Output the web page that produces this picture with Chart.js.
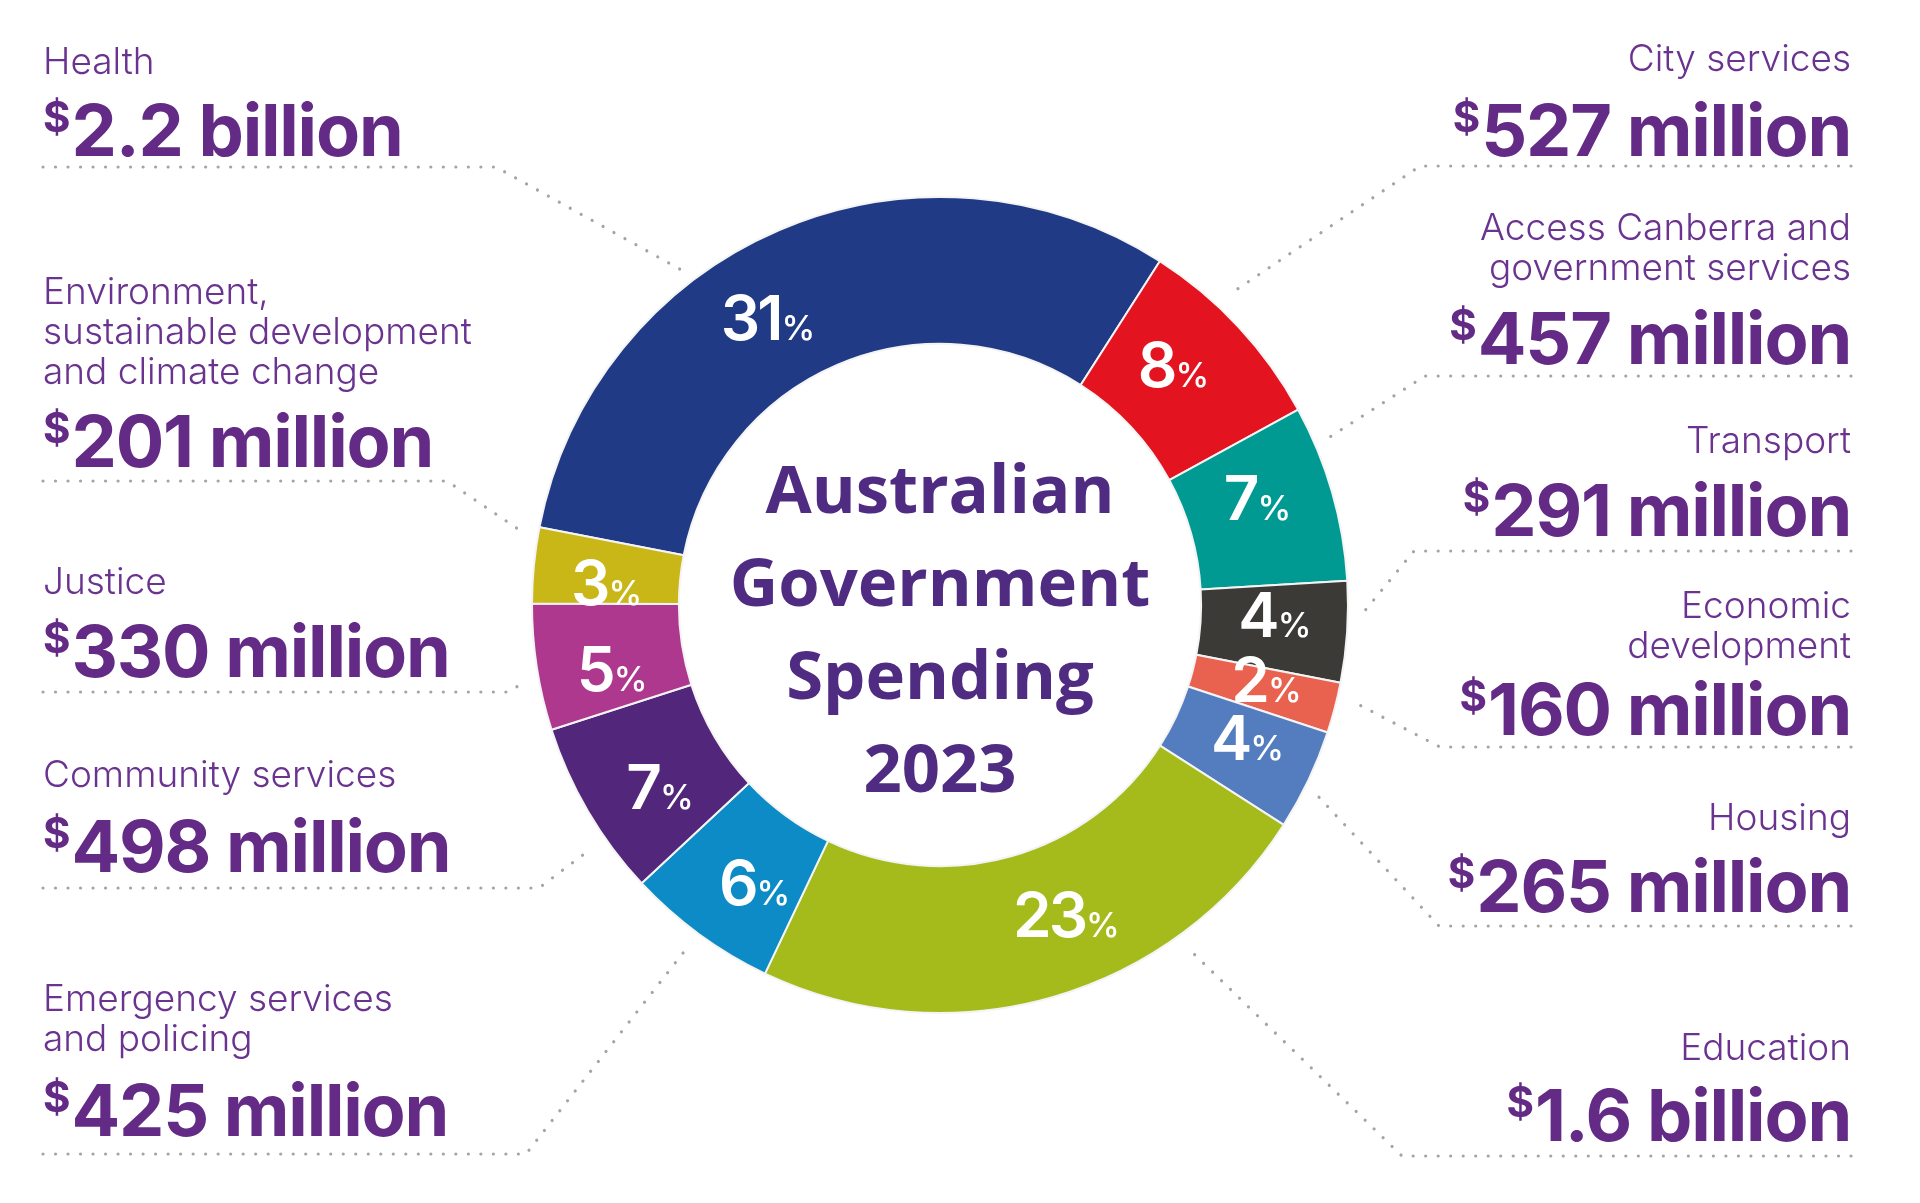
<!doctype html>
<html>

<head>
	<title>Australian Government Spending 2023</title>
	<script src="https://cdn.jsdelivr.net/npm/chart.js@4.4.1/dist/chart.umd.min.js"></script>
	<style>
		body { margin: 0; background: #fff; }
		canvas { display: block; }
	</style>
</head>

<body>
	<canvas id="chart-area" width="1920" height="1203"></canvas>
	<script>
		// spending areas, clockwise from the top-left of the ring
		const categories = [
			['Health'],
			['City services'],
			['Access Canberra and', 'government services'],
			['Transport'],
			['Economic', 'development'],
			['Housing'],
			['Education'],
			['Emergency services', 'and policing'],
			['Community services'],
			['Justice'],
			['Environment,', 'sustainable development', 'and climate change']
		];
		const amountsMillions = [2200, 527, 457, 291, 160, 265, 1600, 425, 498, 330, 201];
		const percentShares = [31, 8, 7, 4, 2, 4, 23, 6, 7, 5, 3];
		const sliceColors = [
			'#203a86', '#e3141f', '#009a93', '#3b3a36', '#e96250', '#537dbf',
			'#a4bb1b', '#0d8bc6', '#52267a', '#ad388d', '#c9b617'
		];
		const titleLines = ['Australian', 'Government', 'Spending', '2023'];

		// where each callout sits around the ring (text baselines, dotted rule, bend)
		const calloutLayout = [
			{ side: 'left', nameY: 74, amountY: 156, lineY: 167, bendX: 496, frac: 0.37 },
			{ side: 'right', nameY: 71, amountY: 156, lineY: 166, bendX: 1420, frac: 0.36 },
			{ side: 'right', nameY: 240, amountY: 364, lineY: 376, bendX: 1425, frac: 0.21 },
			{ side: 'right', nameY: 453, amountY: 536, lineY: 551, bendX: 1414, frac: 0.3 },
			{ side: 'right', nameY: 618, amountY: 735, lineY: 747, bendX: 1440, frac: 0.3 },
			{ side: 'right', nameY: 830, amountY: 912, lineY: 926, bendX: 1439, frac: 0.6 },
			{ side: 'right', nameY: 1060, amountY: 1141, lineY: 1156, bendX: 1402, frac: 0.26 },
			{ side: 'left', nameY: 1011, amountY: 1136, lineY: 1154, bendX: 526, frac: 0.51 },
			{ side: 'left', nameY: 787, amountY: 872, lineY: 888, bendX: 539, frac: 0.32 },
			{ side: 'left', nameY: 594, amountY: 677, lineY: 692, bendX: 508, frac: 0.4 },
			{ side: 'left', nameY: 304, amountY: 467, lineY: 481, bendX: 447, frac: 0.9 }
		];

		const LEFT_X = 43;
		const RIGHT_X = 1851;
		const NAME_COLOR = '#6a3390';
		const AMOUNT_COLOR = '#632a86';
		const DOT_COLOR = '#a3a69c';

		const formatAmount = function(v) {
			return v >= 1000 ? (v / 1000) + ' billion' : v + ' million';
		};

		const callouts = {
			id: 'callouts',
			beforeDatasetsDraw(chart) {
				const ctx = chart.ctx;
				const meta = chart.getDatasetMeta(0);
				ctx.save();
				ctx.strokeStyle = DOT_COLOR;
				ctx.lineWidth = 3.2;
				ctx.lineCap = 'round';
				ctx.setLineDash([0.01, 12.5]);
				calloutLayout.forEach((c, i) => {
					const arc = meta.data[i];
					const p = arc.getProps(['x', 'y', 'startAngle', 'endAngle', 'outerRadius'], true);
					const a = p.startAngle + c.frac * (p.endAngle - p.startAngle);
					const r = p.outerRadius + 16;
					const ex = p.x + Math.cos(a) * r;
					const ey = p.y + Math.sin(a) * r;
					ctx.beginPath();
					ctx.moveTo(c.side === 'left' ? LEFT_X : RIGHT_X, c.lineY);
					ctx.lineTo(c.bendX, c.lineY);
					ctx.lineTo(ex, ey);
					ctx.stroke();
				});
				ctx.restore();
			},
			afterDraw(chart) {
				const ctx = chart.ctx;
				ctx.save();
				ctx.textBaseline = 'alphabetic';
				calloutLayout.forEach((c, i) => {
					const lines = categories[i];
					ctx.fillStyle = NAME_COLOR;
					ctx.font = '300 37px Inter';
					ctx.letterSpacing = '0px';
					ctx.textAlign = c.side === 'left' ? 'left' : 'right';
					lines.forEach((ln, j) => {
						ctx.fillText(ln, c.side === 'left' ? LEFT_X : RIGHT_X, c.nameY + j * 40);
					});

					// amount with small superscript dollar sign
					const txt = formatAmount(amountsMillions[i]);
					ctx.textAlign = 'left';
					ctx.fillStyle = AMOUNT_COLOR;
					ctx.font = '700 42px Inter';
					ctx.letterSpacing = '0px';
					const wd = ctx.measureText('$').width;
					ctx.font = '700 72px Inter';
					ctx.letterSpacing = '-1.2px';
					const wt = ctx.measureText(txt).width;
					const x0 = c.side === 'left' ? LEFT_X : RIGHT_X - wd - 1 - wt;
					ctx.fillText(txt, x0 + wd + 1, c.amountY);
					ctx.font = '700 42px Inter';
					ctx.letterSpacing = '0px';
					ctx.fillText('$', x0, c.amountY - 24);
				});
				ctx.restore();
			}
		};

		const percentLabels = {
			id: 'percentLabels',
			afterDatasetsDraw(chart) {
				const ctx = chart.ctx;
				const meta = chart.getDatasetMeta(0);
				ctx.save();
				ctx.fillStyle = '#ffffff';
				ctx.textBaseline = 'alphabetic';
				ctx.textAlign = 'left';
				meta.data.forEach((arc, i) => {
					const p = arc.getProps(['x', 'y', 'startAngle', 'endAngle', 'innerRadius', 'outerRadius'], true);
					const span = p.endAngle - p.startAngle;
					// labels sit a little before the middle of each slice
					const a = p.startAngle + span / 2 - 0.06 * span - 0.02;
					const r = (p.innerRadius + p.outerRadius) / 2;
					const px = p.x + Math.cos(a) * r;
					const py = p.y + Math.sin(a) * r;
					const num = String(chart.data.datasets[0].data[i]);
					ctx.font = '600 62px Inter';
					ctx.letterSpacing = '-3px';
					const w1 = ctx.measureText(num).width;
					ctx.font = '500 34px Inter';
					ctx.letterSpacing = '0px';
					const w2 = ctx.measureText('%').width;
					const left = px - (w1 + w2) / 2;
					const base = py + 22;
					ctx.font = '600 62px Inter';
					ctx.letterSpacing = '-3px';
					ctx.fillText(num, left, base);
					ctx.font = '500 34px Inter';
					ctx.letterSpacing = '0px';
					ctx.fillText('%', left + w1 + 1, base);
				});
				ctx.restore();
			}
		};

		const centerTitle = {
			id: 'centerTitle',
			afterDraw(chart) {
				const ctx = chart.ctx;
				const arc = chart.getDatasetMeta(0).data[0];
				ctx.save();
				ctx.fillStyle = '#4f2c82';
				ctx.font = '700 67px "Open Sans"';
				ctx.textAlign = 'center';
				ctx.textBaseline = 'alphabetic';
				titleLines.forEach((ln, j) => {
					ctx.fillText(ln, arc.x, arc.y - 92 + j * 93);
				});
				ctx.restore();
			}
		};

		const config = {
			type: 'doughnut',
			data: {
				labels: categories,
				datasets: [{
					data: percentShares,
					backgroundColor: sliceColors,
					borderColor: '#f4f4f4',
					borderWidth: 2,
					hoverOffset: 0
				}]
			},
			options: {
				responsive: false,
				animation: false,
				devicePixelRatio: 1,
				cutout: '64%',
				rotation: -79,
				events: [],
				layout: {
					padding: { top: 196, bottom: 189, left: 531, right: 571 }
				},
				plugins: {
					legend: { display: false },
					tooltip: { enabled: false }
				}
			},
			plugins: [callouts, percentLabels, centerTitle]
		};

		window.onload = function() {
			const ctx = document.getElementById('chart-area').getContext('2d');
			window.myDoughnut = new Chart(ctx, config);
		};
	</script>
</body>

</html>
